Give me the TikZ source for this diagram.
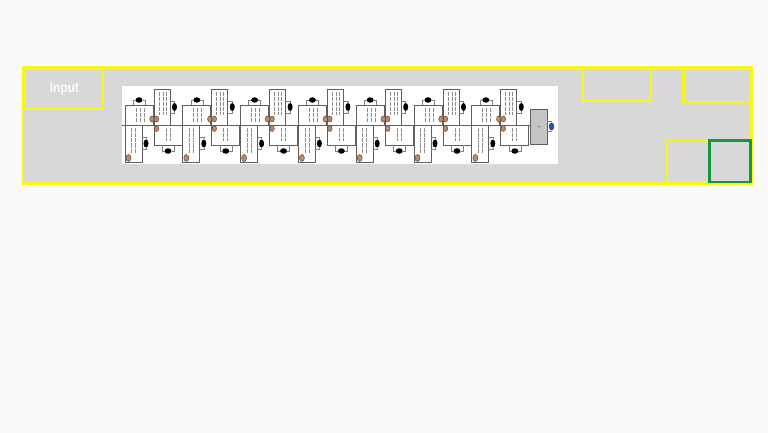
\documentclass[tikz,border=0pt]{standalone}
\usepackage{fontspec}
\setmainfont{Liberation Sans}
\usetikzlibrary{shapes.geometric}
\definecolor{bandgray}{RGB}{216,216,216}
\definecolor{ylw}{RGB}{248,246,20}
\definecolor{grn}{RGB}{24,150,60}
\definecolor{boxline}{RGB}{95,95,95}
\definecolor{tanfill}{RGB}{185,140,110}
\definecolor{tanline}{RGB}{110,70,50}
\definecolor{finfill}{RGB}{196,196,196}
\definecolor{bluefill}{RGB}{40,80,180}
\begin{document}
\begin{tikzpicture}[x=1pt,y=-1pt,
  ybox/.style={draw=ylw,line width=1.6pt},
  sbox/.style={rectangle,draw=boxline,fill=white,line width=0.7pt,inner sep=0pt,outer sep=0pt},
  blk/.style={ellipse,fill=black,inner sep=0pt,outer sep=0pt},
  brn/.style={ellipse,draw=tanline,fill=tanfill,line width=0.5pt,inner sep=0pt,minimum width=4.5pt,minimum height=6pt},
  conn/.style={draw=gray,line width=0.5pt},
  txt/.style={draw=black!45,line width=0.7pt,dash pattern=on 4pt off 1pt}
]
\useasboundingbox (0,0) rectangle (768,433);
\fill[white!98!black] (0,0) rectangle (768,433);
% band
\draw[fill=bandgray,draw=ylw,line width=2.5pt] (23,67.5) rectangle (751.5,183.5);
\draw[draw=ylw,line width=2pt] (24.5,69.5) rectangle (103,109);
\node[text=white!96!gray,font=\bfseries\fontsize{14}{16}\selectfont,xscale=0.85] (input) at (64.3,89.5) {Input};
\draw[ybox,line width=1.5pt] (583,67.5) rectangle (651,101);
\draw[ybox,line width=2.2pt] (683.5,68.5) rectangle (750.5,102);
\draw[ybox,line width=1.5pt] (667,140.5) rectangle (708.5,182);
\draw[draw=grn,line width=2.5pt] (709.5,140.5) rectangle (750.5,182);
% embedded diagram
\fill[white] (121.7,86) rectangle (557.7,164);
\node[sbox,fill=finfill,minimum width=17pt,minimum height=35pt] (fin) at (538.5,126.5) {};
\draw[black!55,line width=0.6pt] ([xshift=-1]fin.center) -- ([xshift=1]fin.center);
\node[ellipse,fill=bluefill,inner sep=0pt,minimum width=5.5pt,minimum height=8pt] (blue) at (551.5,126.5) {};
\draw[conn] ([yshift=5]fin.east) -| (blue.north);
\draw[conn] ([yshift=-5]fin.east) -| (blue.south);
\coordinate (lineL) at (122,125);
\draw[boxline,line width=0.7pt] (lineL) -- (lineL -| fin.west);
\foreach \k in {0,...,6}{
  \pgfmathsetmacro{\xo}{125+57.8*\k}
  % boxes
  \node[sbox,minimum width=28pt,minimum height=20pt] (ul\k) at (\xo+14,115) {};
  \node[sbox,minimum width=16pt,minimum height=36pt] (tb\k) at (\xo+37,107) {};
  \node[sbox,minimum width=17pt,minimum height=37pt] (ll\k) at (\xo+8.5,143.5) {};
  \node[sbox,minimum width=28pt,minimum height=20pt] (lr\k) at (\xo+43,135) {};
  % text strokes
  \foreach \dx in {-3,1,5}{
    \draw[txt] ([xshift=\dx,yshift=7]ul\k.center) -- ([xshift=\dx,yshift=-7]ul\k.center);}
  \foreach \dx in {-3,1,4}{
    \draw[txt] ([xshift=\dx,yshift=15]tb\k.center) -- ([xshift=\dx,yshift=-8]tb\k.center);}
  \foreach \dx in {-2,2}{
    \draw[txt] ([xshift=\dx,yshift=15]ll\k.center) -- ([xshift=\dx,yshift=-9]ll\k.center);}
  \foreach \dx in {-2,2}{
    \draw[txt] ([xshift=\dx,yshift=7]lr\k.center) -- ([xshift=\dx,yshift=-6]lr\k.center);}
  % black ellipses
  \node[blk,minimum width=7pt,minimum height=5.5pt] (eT\k) at (\xo+14,100) {};
  \node[blk,minimum width=5pt,minimum height=8pt] (eR\k) at (\xo+49.5,107) {};
  \node[blk,minimum width=5pt,minimum height=8pt] (eL\k) at (\xo+21,143.5) {};
  \node[blk,minimum width=7pt,minimum height=5.5pt] (eB\k) at (\xo+43,151) {};
  \draw[conn] ([xshift=-6]ul\k.north) |- (eT\k.west);
  \draw[conn] (eT\k.east) -| ([xshift=6]ul\k.north);
  \draw[conn] ([yshift=6]tb\k.east) -| (eR\k.north);
  \draw[conn] ([yshift=-6]tb\k.east) -| (eR\k.south);
  \draw[conn] ([yshift=6]ll\k.east) -| (eL\k.north);
  \draw[conn] ([yshift=-6]ll\k.east) -| (eL\k.south);
  \draw[conn] ([xshift=-6]lr\k.south) |- (eB\k.west);
  \draw[conn] (eB\k.east) -| ([xshift=6]lr\k.south);
  % brown circles
  \node[brn] (bA\k) at (\xo+27,119) {};
  \node[brn] (bB\k) at (\xo+31.5,119) {};
  \node[brn] (bC\k) at (\xo+31.5,128.5) {};
  \node[brn,minimum width=5pt,minimum height=7pt] (bD\k) at (\xo+3.5,158) {};
}
\end{tikzpicture}
\end{document}
